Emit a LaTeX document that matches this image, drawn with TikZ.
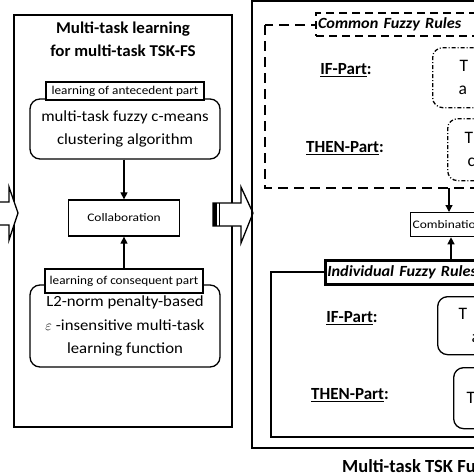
\documentclass[tikz,border=0pt]{standalone}
\usepackage{fontspec}
\setmainfont{Carlito}
\newfontfamily\hfont{Carlito}[FakeStretch=1.03]
\newfontfamily\lfont{Carlito}[FakeStretch=1.08]
\newfontfamily\tagfont{Carlito}[FakeStretch=1.1]
\newfontfamily\ttlfont{Carlito}[FakeStretch=1.05]
\newfontfamily\combfont{Carlito}[FakeStretch=1.17]
\usetikzlibrary{arrows.meta}
\tikzset{
  arr/.style={line width=1.2pt, -{Triangle[length=7pt, width=7pt]}},
  hd/.style={font=\hfont\fontsize{16.5}{23}\selectfont\bfseries, align=center},
  rbox/.style={draw, line width=1.3pt, rounded corners=10pt, align=center,
    font=\lfont\fontsize{15.5}{23.5}\selectfont},
  tag/.style={draw, line width=1.3pt, fill=white, inner sep=0pt,
    minimum width=158pt, font=\tagfont\fontsize{12}{14}\selectfont},
  part/.style={font=\fontsize{17}{18}\selectfont\bfseries},
  rtitle/.style={fill=white, anchor=north west, inner xsep=2pt, inner ysep=0pt,
    minimum height=23pt, text width=260pt, align=left,
    font=\ttlfont\fontsize{15.5}{18}\selectfont\bfseries\itshape},
  tbox/.style={rounded corners=10pt, anchor=north west, inner xsep=0pt,
    text width=60pt, align=left, font=\fontsize{17.5}{23}\selectfont},
  dashdot/.style={line width=1.3pt, dash pattern=on 4pt off 2pt on 1pt off 2pt},
}
\begin{document}
\begin{tikzpicture}[x=1pt, y=-1pt]
  \useasboundingbox (0,0) rectangle (474,474);
  \clip (0,0) rectangle (474,474);

  % left part
  \draw[line width=1.5pt] (14,15) rectangle (232,427);
  \node[hd] (mtl) at (123,39) {Multi-task learning\\for multi-task TSK-FS};
  \node[rbox, minimum width=190pt, minimum height=60pt] (ante) at (125,129)
    {multi-task fuzzy c-means\\clustering algorithm};
  \node[tag, minimum height=18pt] (antetag) at (125,91) {learning of antecedent part};
  \node[draw, line width=1.3pt, minimum width=111pt, minimum height=36pt,
    font=\combfont\fontsize{11.5}{14}\selectfont] (collab) at (124,218) {Collaboration};
  \node[rbox, minimum width=190pt, minimum height=82pt] (cons) at (125,326)
    {L2-norm penalty-based\\$\varepsilon$ -insensitive multi-task\\learning function};
  \node[tag, minimum height=24pt] (constag) at (124,281) {learning of consequent part};
  \draw[arr] (ante.south -| collab) -- (collab.north);
  \draw[arr] (constag.north -| collab) -- (collab.south);

  % block arrows
  \draw[line width=1.3pt, fill=white] (-2,202) -- (9,202) -- (9,187) -- (18,213)
    -- (9,240) -- (9,225) -- (-2,225);
  \draw[line width=1.3pt, fill=white] (213,203) -- (241,203) -- (241,187) -- (253,213)
    -- (241,243) -- (241,226) -- (213,226) -- cycle;
  \fill (213,203) rectangle (217,226);
  \draw[line width=1pt] (219,203) -- (219,226);

  % right part
  \draw[line width=2pt] (252,1) rectangle (490,448);
  \draw[line width=2.5pt, dash pattern=on 10pt off 6pt] (265,25) rectangle (490,188);
  \node[rtitle, draw, line width=2pt, dash pattern=on 8pt off 5pt] (common) at (315,12)
    {Common Fuzzy Rules};
  \node[part] (ifc) at (346,70) {\underline{IF-Part}:};
  \node[part] (thenc) at (345,148) {\underline{THEN-Part}:};
  \node[tbox, draw, dashdot, minimum height=60pt] (ifcbox) at (432,47)
    {\hspace*{27pt}T\\\hspace*{26pt}a};
  \node[tbox, draw, dashdot, minimum height=62pt] (thencbox) at (447,118)
    {\hspace*{17pt}T\\\hspace*{20pt}c};

  \node[draw, line width=1.3pt, anchor=north west, minimum height=24pt,
    inner xsep=2pt, text width=90pt, align=left,
    font=\combfont\fontsize{11.5}{14}\selectfont] (comb) at (410,212) {Combination};
  \coordinate (cbot) at (449,188);
  \coordinate (itop) at (451,259);
  \draw[arr] (cbot) -- (cbot |- comb.north);
  \draw[arr] (itop) -- (itop |- comb.south);

  \draw[line width=2.5pt] (271,272) rectangle (490,437);
  \node[rtitle, draw, line width=2.5pt, minimum height=24pt] (indiv) at (324,259)
    {Individual Fuzzy Rules};
  \node[part] (ifi) at (352,318) {\underline{IF-Part}:};
  \node[part] (theni) at (350,395) {\underline{THEN-Part}:};
  \node[tbox, draw, line width=1.3pt, minimum height=58pt] (ifibox) at (437,296)
    {\hspace*{21pt}T\\\hspace*{34pt}a};
  \node[tbox, draw, line width=1.3pt, minimum height=61pt] (thenibox) at (453,367)
    {\hspace*{13pt}T};

  \node[anchor=west, inner sep=0pt, font=\fontsize{18.5}{20}\selectfont\bfseries]
    (cap) at (342,467) {Multi-task TSK Fuzzy System};
\end{tikzpicture}
\end{document}
